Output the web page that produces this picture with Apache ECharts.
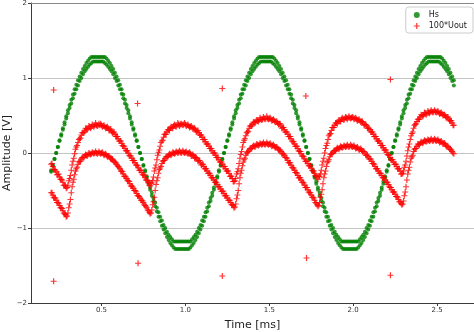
<!DOCTYPE html>
<html>
<head>
<meta charset="utf-8">
<script src="https://cdn.jsdelivr.net/npm/echarts@6/dist/echarts.min.js"></script>
<style>
  html, body { margin: 0; padding: 0; background: #fff; }
  #chart { width: 474px; height: 332px; }
</style>
</head>
<body>
<div id="chart"></div>
<script>
// Sampling clocks of the recorded traces (ms)
const t0 = 0.20;     // first acquisition
const t0b = 0.205;   // second, interleaved acquisition (Uout only)
const dt = 0.01;

// Hs: two interleaved acquisitions of the field signal (V)
const hsOuter = [
  -0.25,-0.17,-0.08,
  0.00,0.08,0.17,0.25,0.33,0.41,0.49,0.57,0.64,0.71,0.78,0.85,0.91,0.97,1.02,1.07,1.12,1.16,1.20,1.23,1.26,1.28,1.28,1.28,1.28,1.28,1.28,1.28,1.28,1.28,1.26,1.23,1.20,1.16,1.12,1.07,1.02,0.97,0.91,0.85,0.78,0.71,0.64,0.57,0.49,0.41,0.33,0.25,0.17,0.08,
  0.00,-0.08,-0.17,-0.25,-0.33,-0.41,-0.49,-0.57,-0.64,-0.71,-0.78,-0.85,-0.91,-0.97,-1.02,-1.07,-1.12,-1.16,-1.20,-1.23,-1.26,-1.28,-1.28,-1.28,-1.28,-1.28,-1.28,-1.28,-1.28,-1.28,-1.26,-1.23,-1.20,-1.16,-1.12,-1.07,-1.02,-0.97,-0.91,-0.85,-0.78,-0.71,-0.64,-0.57,-0.49,-0.41,-0.33,-0.25,-0.17,-0.08,
  0.00,0.08,0.17,0.25,0.33,0.41,0.49,0.57,0.64,0.71,0.78,0.85,0.91,0.97,1.02,1.07,1.12,1.16,1.20,1.23,1.26,1.28,1.28,1.28,1.28,1.28,1.28,1.28,1.28,1.28,1.26,1.23,1.20,1.16,1.12,1.07,1.02,0.97,0.91,0.85,0.78,0.71,0.64,0.57,0.49,0.41,0.33,0.25,0.17,0.08,
  0.00,-0.08,-0.17,-0.25,-0.33,-0.41,-0.49,-0.57,-0.64,-0.71,-0.78,-0.85,-0.91,-0.97,-1.02,-1.07,-1.12,-1.16,-1.20,-1.23,-1.26,-1.28,-1.28,-1.28,-1.28,-1.28,-1.28,-1.28,-1.28,-1.28,-1.26,-1.23,-1.20,-1.16,-1.12,-1.07,-1.02,-0.97,-0.91,-0.85,-0.78,-0.71,-0.64,-0.57,-0.49,-0.41,-0.33,-0.25,-0.17,-0.08,
  0.00,0.08,0.17,0.25,0.33,0.41,0.49,0.57,0.64,0.71,0.78,0.85,0.91,0.97,1.02,1.07,1.12,1.16,1.20,1.23,1.26,1.28,1.28,1.28,1.28,1.28,1.28,1.28,1.28,1.28,1.26,1.23,1.20,1.16,1.12,1.07,1.02,0.97
];
const hsInner = [
  -0.23,-0.16,-0.08,
  0.00,0.08,0.16,0.23,0.31,0.38,0.46,0.53,0.60,0.66,0.73,0.79,0.85,0.90,0.96,1.00,1.05,1.09,1.12,1.15,1.18,1.20,1.22,1.22,1.22,1.22,1.22,1.22,1.22,1.20,1.18,1.15,1.12,1.09,1.05,1.00,0.96,0.90,0.85,0.79,0.73,0.66,0.60,0.53,0.46,0.38,0.31,0.23,0.16,0.08,
  0.00,-0.08,-0.16,-0.23,-0.31,-0.38,-0.46,-0.53,-0.60,-0.66,-0.73,-0.79,-0.85,-0.90,-0.96,-1.00,-1.05,-1.09,-1.12,-1.15,-1.18,-1.18,-1.18,-1.18,-1.18,-1.18,-1.18,-1.18,-1.18,-1.18,-1.18,-1.15,-1.12,-1.09,-1.05,-1.00,-0.96,-0.90,-0.85,-0.79,-0.73,-0.66,-0.60,-0.53,-0.46,-0.38,-0.31,-0.23,-0.16,-0.08,
  0.00,0.08,0.16,0.23,0.31,0.38,0.46,0.53,0.60,0.66,0.73,0.79,0.85,0.90,0.96,1.00,1.05,1.09,1.12,1.15,1.18,1.20,1.22,1.22,1.22,1.22,1.22,1.22,1.22,1.20,1.18,1.15,1.12,1.09,1.05,1.00,0.96,0.90,0.85,0.79,0.73,0.66,0.60,0.53,0.46,0.38,0.31,0.23,0.16,0.08,
  0.00,-0.08,-0.16,-0.23,-0.31,-0.38,-0.46,-0.53,-0.60,-0.66,-0.73,-0.79,-0.85,-0.90,-0.96,-1.00,-1.05,-1.09,-1.12,-1.15,-1.18,-1.18,-1.18,-1.18,-1.18,-1.18,-1.18,-1.18,-1.18,-1.18,-1.18,-1.15,-1.12,-1.09,-1.05,-1.00,-0.96,-0.90,-0.85,-0.79,-0.73,-0.66,-0.60,-0.53,-0.46,-0.38,-0.31,-0.23,-0.16,-0.08,
  0.00,0.08,0.16,0.23,0.31,0.38,0.46,0.53,0.60,0.66,0.73,0.79,0.85,0.90,0.96,1.00,1.05,1.09,1.12,1.15,1.18,1.20,1.22,1.22,1.22,1.22,1.22,1.22,1.22,1.20,1.18,1.15,1.12,1.09,1.05,1.00,0.96,0.90
];

// 100*Uout, first acquisition: upper and lower branches (V)
const uoutUpper = [
  -0.15,-0.18,-0.22,-0.25,-0.29,-0.32,-0.35,-0.39,-0.43,
  -0.47,-0.43,-0.34,-0.23,-0.11,-0.01,0.08,0.14,0.19,0.24,0.27,0.29,0.32,0.33,0.35,0.35,0.36,0.37,0.37,0.37,
  0.37,0.37,0.36,0.35,0.34,0.33,0.31,0.29,0.27,0.25,0.22,0.19,0.16,0.13,0.09,0.06,0.03,0.00,-0.04,-0.07,-0.10,-0.13,-0.16,-0.20,-0.23,-0.26,-0.29,-0.33,-0.36,-0.40,
  -0.44,-0.40,-0.32,-0.20,-0.09,0.01,0.09,0.16,0.21,0.25,0.28,0.31,0.33,0.34,0.36,0.36,0.37,0.38,0.38,0.38,
  0.38,0.38,0.37,0.36,0.35,0.34,0.33,0.31,0.29,0.27,0.24,0.21,0.18,0.15,0.12,0.09,0.06,0.03,0.00,-0.03,-0.06,-0.09,-0.12,-0.15,-0.18,-0.21,-0.24,-0.27,-0.31,-0.34,
  -0.38,-0.34,-0.25,-0.14,-0.02,0.08,0.17,0.23,0.28,0.33,0.36,0.38,0.41,0.42,0.43,0.44,0.45,0.45,0.46,0.46,
  0.46,0.46,0.45,0.44,0.43,0.42,0.40,0.39,0.36,0.34,0.31,0.28,0.25,0.22,0.19,0.15,0.12,0.09,0.06,0.02,-0.01,-0.04,-0.08,-0.11,-0.14,-0.17,-0.20,-0.24,-0.27,-0.31,
  -0.35,-0.31,-0.23,-0.11,0.00,0.10,0.18,0.25,0.30,0.34,0.37,0.40,0.42,0.43,0.45,0.45,0.46,0.47,0.47,0.47,
  0.47,0.47,0.46,0.45,0.44,0.43,0.42,0.40,0.38,0.36,0.33,0.31,0.28,0.25,0.22,0.19,0.16,0.13,0.10,0.07,0.04,0.01,-0.03,-0.06,-0.09,-0.12,-0.15,-0.18,-0.21,-0.24,
  -0.28,-0.24,-0.16,-0.04,0.08,0.18,0.26,0.33,0.38,0.42,0.45,0.48,0.50,0.51,0.53,0.53,0.54,0.55,0.55,0.55,
  0.55,0.55,0.54,0.53,0.52,0.51,0.49,0.48,0.45,0.43,0.40,0.37
];
const uoutLower = [
  -0.53,-0.56,-0.60,-0.63,-0.66,-0.70,-0.73,-0.77,-0.81,
  -0.85,-0.80,-0.68,-0.53,-0.39,-0.29,-0.21,-0.15,-0.11,-0.08,-0.06,-0.04,-0.03,-0.02,-0.01,-0.01,0.00,0.00,0.00,0.00,
  0.00,0.00,-0.01,-0.02,-0.03,-0.04,-0.06,-0.08,-0.10,-0.12,-0.15,-0.18,-0.21,-0.24,-0.28,-0.31,-0.34,-0.37,-0.41,-0.44,-0.47,-0.50,-0.54,-0.57,-0.60,-0.63,-0.66,-0.70,-0.73,-0.77,
  -0.81,-0.76,-0.65,-0.50,-0.37,-0.27,-0.20,-0.14,-0.10,-0.07,-0.05,-0.03,-0.02,-0.01,0.00,0.00,0.01,0.01,0.01,0.01,
  0.01,0.01,0.00,0.00,-0.01,-0.03,-0.04,-0.06,-0.08,-0.10,-0.13,-0.15,-0.18,-0.21,-0.24,-0.27,-0.30,-0.33,-0.36,-0.39,-0.42,-0.45,-0.48,-0.51,-0.54,-0.57,-0.60,-0.63,-0.66,-0.69,
  -0.73,-0.68,-0.56,-0.41,-0.27,-0.17,-0.09,-0.03,0.01,0.04,0.06,0.08,0.09,0.10,0.11,0.11,0.12,0.12,0.12,0.12,
  0.12,0.12,0.11,0.10,0.09,0.08,0.06,0.04,0.02,-0.01,-0.03,-0.06,-0.10,-0.13,-0.16,-0.20,-0.23,-0.26,-0.30,-0.33,-0.36,-0.39,-0.43,-0.46,-0.49,-0.53,-0.56,-0.59,-0.63,-0.67,
  -0.71,-0.66,-0.55,-0.41,-0.28,-0.18,-0.11,-0.05,-0.01,0.01,0.03,0.05,0.06,0.07,0.08,0.08,0.09,0.09,0.09,0.09,
  0.09,0.09,0.08,0.07,0.06,0.05,0.04,0.02,0.00,-0.03,-0.05,-0.08,-0.11,-0.14,-0.18,-0.21,-0.24,-0.27,-0.30,-0.33,-0.36,-0.39,-0.42,-0.46,-0.49,-0.52,-0.55,-0.58,-0.62,-0.65,
  -0.69,-0.64,-0.52,-0.36,-0.23,-0.12,-0.05,0.02,0.06,0.09,0.11,0.13,0.14,0.15,0.16,0.16,0.17,0.17,0.17,0.17,
  0.17,0.17,0.16,0.15,0.14,0.13,0.11,0.09,0.07,0.05,0.02,-0.01
];

// 100*Uout, second acquisition (interleaved samples, noisier)
const uoutUpperB = [
  -0.14,-0.22,-0.23,-0.29,-0.28,-0.35,-0.36,-0.43,-0.44,
  -0.46,-0.37,-0.30,-0.16,-0.07,0.05,0.10,0.18,0.20,0.27,0.27,0.33,0.31,0.36,0.33,0.38,0.35,0.40,0.36,0.39,
  0.39,0.35,0.37,0.33,0.35,0.30,0.32,0.27,0.28,0.22,0.22,0.16,0.16,0.10,0.09,0.03,0.03,-0.03,-0.04,-0.10,-0.10,-0.16,-0.17,-0.23,-0.23,-0.29,-0.30,-0.36,-0.37,-0.43,
  -0.40,-0.37,-0.24,-0.16,-0.03,0.04,0.14,0.17,0.25,0.25,0.31,0.30,0.35,0.33,0.38,0.35,0.40,0.36,0.39,0.37,
  0.40,0.36,0.38,0.34,0.36,0.32,0.33,0.28,0.30,0.24,0.24,0.18,0.18,0.12,0.12,0.06,0.06,0.00,0.00,-0.06,-0.06,-0.12,-0.12,-0.18,-0.18,-0.24,-0.24,-0.31,-0.31,-0.38,
  -0.37,-0.28,-0.21,-0.07,0.02,0.14,0.19,0.27,0.29,0.36,0.36,0.41,0.40,0.44,0.42,0.47,0.44,0.48,0.45,0.49,
  0.45,0.47,0.43,0.45,0.41,0.42,0.38,0.39,0.33,0.34,0.28,0.28,0.22,0.22,0.16,0.15,0.09,0.09,0.03,0.02,-0.04,-0.05,-0.11,-0.11,-0.17,-0.17,-0.23,-0.24,-0.30,-0.32,
  -0.31,-0.28,-0.16,-0.07,0.06,0.13,0.23,0.26,0.34,0.34,0.40,0.39,0.44,0.42,0.47,0.44,0.48,0.45,0.49,0.46,
  0.48,0.45,0.47,0.43,0.45,0.41,0.42,0.37,0.38,0.33,0.33,0.28,0.28,0.22,0.22,0.16,0.16,0.10,0.10,0.04,0.04,-0.02,-0.03,-0.09,-0.09,-0.15,-0.15,-0.21,-0.21,-0.28,
  -0.27,-0.19,-0.11,0.03,0.12,0.23,0.28,0.37,0.39,0.45,0.45,0.51,0.49,0.54,0.51,0.56,0.53,0.57,0.54,0.57,
  0.54,0.56,0.52,0.54,0.50,0.51,0.47,0.48,0.43,0.43,0.37
];
const uoutLowerB = [
  -0.53,-0.59,-0.60,-0.66,-0.67,-0.73,-0.74,-0.80,-0.82,
  -0.84,-0.73,-0.62,-0.45,-0.35,-0.24,-0.19,-0.12,-0.11,-0.06,-0.06,-0.02,-0.04,0.00,-0.02,0.01,-0.01,0.02,-0.01,0.02,
  -0.01,0.01,-0.03,-0.01,-0.05,-0.04,-0.08,-0.08,-0.12,-0.13,-0.17,-0.19,-0.24,-0.25,-0.31,-0.32,-0.37,-0.38,-0.44,-0.45,-0.50,-0.51,-0.57,-0.58,-0.63,-0.64,-0.69,-0.71,-0.76,-0.79,
  -0.80,-0.69,-0.59,-0.42,-0.33,-0.22,-0.18,-0.11,-0.10,-0.05,-0.05,-0.01,-0.03,0.01,-0.01,0.02,0.00,0.03,0.00,0.03,
  0.00,0.02,-0.01,0.01,-0.04,-0.02,-0.07,-0.06,-0.11,-0.10,-0.16,-0.15,-0.21,-0.21,-0.27,-0.27,-0.33,-0.33,-0.39,-0.39,-0.45,-0.45,-0.51,-0.51,-0.57,-0.57,-0.63,-0.63,-0.69,-0.70,
  -0.72,-0.61,-0.50,-0.33,-0.23,-0.12,-0.07,0.00,0.02,0.06,0.06,0.10,0.08,0.12,0.10,0.13,0.11,0.14,0.11,0.14,
  0.11,0.13,0.09,0.11,0.07,0.08,0.04,0.04,-0.01,-0.01,-0.06,-0.07,-0.13,-0.13,-0.19,-0.20,-0.26,-0.27,-0.33,-0.33,-0.39,-0.40,-0.46,-0.46,-0.52,-0.53,-0.59,-0.60,-0.66,-0.69,
  -0.70,-0.59,-0.49,-0.33,-0.24,-0.13,-0.09,-0.02,-0.01,0.03,0.03,0.07,0.05,0.09,0.07,0.10,0.08,0.11,0.08,0.11,
  0.08,0.10,0.06,0.08,0.04,0.06,0.02,0.02,-0.03,-0.03,-0.08,-0.08,-0.14,-0.15,-0.21,-0.21,-0.27,-0.27,-0.33,-0.33,-0.39,-0.39,-0.45,-0.46,-0.52,-0.52,-0.58,-0.59,-0.65,-0.67,
  -0.68,-0.57,-0.45,-0.28,-0.19,-0.07,-0.03,0.05,0.06,0.12,0.11,0.15,0.13,0.17,0.15,0.18,0.16,0.19,0.16,0.19,
  0.16,0.18,0.14,0.16,0.12,0.13,0.09,0.09,0.05,0.04,0.00
];

// 100*Uout: isolated spikes (time in ms, value in V)
const spikeTime  = [0.215, 0.215, 0.715, 0.718, 1.220, 1.220, 1.718, 1.722, 2.222, 2.222];
const spikeValue = [0.84, -1.71, 0.66, -1.47, 0.86, -1.64, 0.76, -1.40, 0.98, -1.63];

// Axis ticks
const xTicks = [0.5, 1.0, 1.5, 2.0, 2.5];
const yTicks = [-2, -1, 0, 1, 2];

const sampled = (vals, start) => vals.map((v, i) => [Number((start + i * dt).toFixed(3)), v]);
const spikes = spikeTime.map((t, i) => [t, spikeValue[i]]);

const FONT = 'DejaVu Sans';
const AXIS_COLOR = '#3a3a3a';
const PLUS = 'path://M4,0H6V4H10V6H6V10H4V6H0V4H4Z';

const chart = echarts.init(document.getElementById('chart'), null, { renderer: 'canvas' });

const greenStyle = { color: '#008000' };
const redStyle = { color: '#ff0000' };

const hsSeries = data => ({
  name: 'Hs', type: 'scatter', symbol: 'circle', symbolSize: 4,
  itemStyle: greenStyle, data
});
const uoutSeries = data => ({
  name: '100*Uout', type: 'scatter', symbol: PLUS, symbolSize: 6,
  itemStyle: redStyle, data
});

chart.setOption({
  animation: false,
  backgroundColor: '#ffffff',
  grid: { left: 31, right: 0, top: 3, bottom: 29, containLabel: false, outerBoundsMode: 'none' },
  legend: {
    orient: 'vertical',
    right: 1,
    top: 7,
    data: [
      { name: 'Hs', icon: 'circle', itemStyle: greenStyle },
      { name: '100*Uout', icon: PLUS, itemStyle: redStyle }
    ],
    itemWidth: 14,
    itemHeight: 6,
    itemGap: 3,
    padding: [4, 6, 3, 8],
    borderColor: '#cccccc',
    borderWidth: 1,
    borderRadius: 3,
    backgroundColor: 'rgba(255,255,255,0.85)',
    textStyle: { fontFamily: FONT, fontSize: 8, color: '#222' }
  },
  xAxis: [
    {
      type: 'value',
      position: 'bottom',
      min: 0.08,
      max: 2.72,
      name: 'Time [ms]',
      nameLocation: 'middle',
      nameGap: 17,
      nameMoveOverlap: false,
      nameTextStyle: { fontFamily: FONT, fontSize: 11, color: '#222' },
      axisLine: { show: true, onZero: false, lineStyle: { color: AXIS_COLOR, width: 1 } },
      axisTick: { show: true, length: 3, customValues: xTicks, lineStyle: { color: AXIS_COLOR } },
      axisLabel: {
        customValues: xTicks,
        formatter: v => v.toFixed(1),
        fontFamily: FONT, fontSize: 7, color: '#333', margin: 4
      },
      splitLine: { show: false }
    },
    {
      type: 'value',
      position: 'top',
      min: 0.08,
      max: 2.72,
      axisLine: { show: true, onZero: false, lineStyle: { color: '#888', width: 1 } },
      axisTick: { show: false },
      axisLabel: { show: false },
      splitLine: { show: false }
    }
  ],
  yAxis: {
    type: 'value',
    min: -2,
    max: 2,
    interval: 1,
    name: 'Amplitude [V]',
    nameLocation: 'middle',
    nameGap: 18,
    nameMoveOverlap: false,
    nameTextStyle: { fontFamily: FONT, fontSize: 11, color: '#222' },
    axisLine: { show: true, onZero: false, lineStyle: { color: AXIS_COLOR, width: 1 } },
    axisTick: { show: true, length: 3, customValues: yTicks, lineStyle: { color: AXIS_COLOR } },
    axisLabel: {
      customValues: yTicks,
      formatter: v => (v < 0 ? '\u2212' : '') + Math.abs(v),
      fontFamily: FONT, fontSize: 7, color: '#333', margin: 4
    },
    splitLine: { show: true, lineStyle: { color: '#c4c4c4', width: 1 } }
  },
  series: [
    hsSeries(sampled(hsOuter, t0)),
    hsSeries(sampled(hsInner, t0)),
    uoutSeries(sampled(uoutUpper, t0)),
    uoutSeries(sampled(uoutLower, t0)),
    uoutSeries(sampled(uoutUpperB, t0b)),
    uoutSeries(sampled(uoutLowerB, t0b)),
    uoutSeries(spikes)
  ]
});
</script>
</body>
</html>
